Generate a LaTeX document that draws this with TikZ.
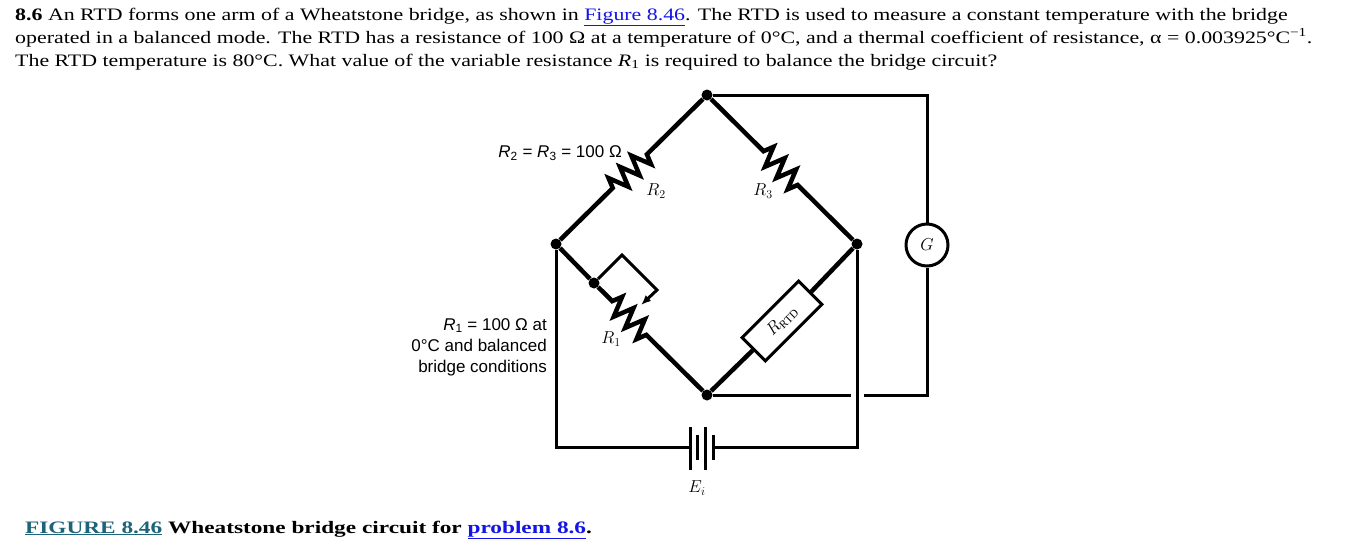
\documentclass[tikz,border=0pt]{standalone}
\usepackage{fontspec}
\setmainfont{Liberation Serif}
\setsansfont{Liberation Sans}
\newfontfamily\qfont[FakeStretch=1.25]{Liberation Serif}
\newfontfamily\cfont[FakeStretch=1.33]{Liberation Serif}
\usetikzlibrary{decorations.pathmorphing,arrows.meta}
\definecolor{linkblue}{RGB}{20,20,230}
\definecolor{teal}{RGB}{30,100,120}
\tikzset{
 wire/.style={line width=4.5pt},
 thin/.style={line width=3pt},
 dotn/.style={circle,fill=black,inner sep=0pt,minimum size=11pt},
 qtext/.style={anchor=base west,inner sep=0pt,font=\qfont\fontsize{17.5}{20}\selectfont},
 lab/.style={inner sep=0pt,font=\sffamily\fontsize{17}{21}\selectfont},
 ilab/.style={inner sep=0pt,font=\fontsize{17}{18}\selectfont},
 res/.style={decoration={zigzag,segment length=16pt,amplitude=10pt,pre length=#1,post length=#1},decorate}
}
\begin{document}
\begin{tikzpicture}[x=1pt,y=-1pt]
\useasboundingbox (0,0) rectangle (1366,547);
\node[qtext] (l1) at (15,20) {\textbf{8.6} An RTD forms one arm of a Wheatstone bridge, as shown in \textcolor{linkblue}{\underline{Figure 8.46}}. The RTD is used to measure a constant temperature with the bridge};
\node[qtext] (l2) at (15,43) {operated in a balanced mode. The RTD has a resistance of 100 Ω at a temperature of 0°C, and a thermal coefficient of resistance, α = 0.003925°C\textsuperscript{−1}.};
\node[qtext] (l3) at (15,66) {The RTD temperature is 80°C. What value of the variable resistance \textit{R}\textsubscript{1} is required to balance the bridge circuit?};
% nodes
\node[dotn] (T) at (707,95) {};
\node[dotn] (L) at (556,244) {};
\node[dotn] (Rt) at (857,244) {};
\node[dotn] (B) at (707,395) {};
\node[dotn] (D) at (594,283) {};
\node[circle,draw,thin,fill=white,minimum size=42pt,inner sep=0pt,font=\fontsize{17}{18}\selectfont] (G) at (927,245) {$G$};
\coordinate (TR) at (927,95);
\coordinate (BR1) at (851,395);
\coordinate (BR2) at (864,395);
\coordinate (BRc) at (927,395);
\coordinate (LB) at (556,447);
\coordinate (RB) at (857,447);
\coordinate (b1) at (690,447);
\coordinate (b4) at (713,447);
% bridge arms
\draw[wire,res=74pt] (L) -- (T);
\draw[wire,res=74pt] (T) -- (Rt);
\draw[wire] (L) -- (D);
\draw[wire,decoration={zigzag,segment length=16pt,amplitude=10pt,pre length=20pt,post length=74pt},decorate] (D) -- (B);
% rheostat
\coordinate (k1) at (622,255);
\coordinate (k2) at (657,290);
\draw[thin,-{Latex[length=10pt,width=8pt]}] (D) -- (k1) -- (k2) -- (641,305);
% RTD
\node[draw,thin,fill=white,rotate=45,minimum width=80pt,minimum height=33pt,inner sep=0pt,font=\fontsize{16}{18}\selectfont] (RTD) at (782,321) {$R_{\mathrm{RTD}}$};
\draw[wire] (B) -- (RTD.west);
\draw[wire] (RTD.east) -- (Rt);
% galvanometer
\draw[thin] (T) -- (TR) -- (G);
\draw[thin] (G) -- (BRc) -- (BR2);
\draw[thin] (B) -- (BR1);
% battery loop
\draw[thin] (L) -- (LB) -- (b1);
\draw[thin] (b4) -- (RB) -- (Rt);
\draw[thin] (690,427) -- (690,470);
\draw[thin] (697,435) -- (697,460);
\draw[thin] (705,427) -- (705,470);
\draw[thin] (713,435) -- (713,460);
% labels
\node[ilab] (r2l) at (656,191) {$R_2$};
\node[ilab] (r3l) at (763,191) {$R_3$};
\node[ilab] (r1l) at (611,339) {$R_1$};
\node[ilab] (eil) at (697,488) {$E_i$};
\node[lab,anchor=east] (r23) at (622,153) {\textit{R}\textsubscript{2} = \textit{R}\textsubscript{3} = 100 Ω};
\node[lab,anchor=north east,align=right] (r1t) at (547,318) {\textit{R}\textsubscript{1} = 100 Ω at\\0°C and balanced\\bridge conditions};
\node[qtext,font=\cfont\fontsize{17.5}{20}\selectfont] (cap) at (25,533) {\textbf{\textcolor{teal}{\underline{FIGURE 8.46}} Wheatstone bridge circuit for \textcolor{linkblue}{\underline{problem 8.6}}.}};
\end{tikzpicture}
\end{document}
